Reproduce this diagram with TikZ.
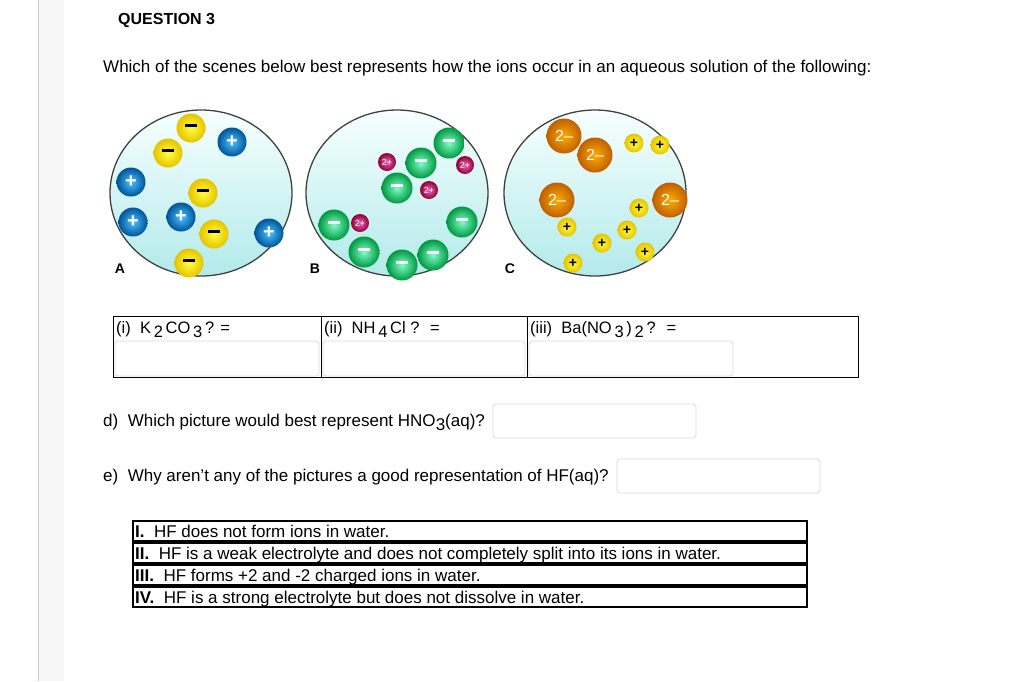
\documentclass[tikz,border=0pt]{standalone}
\usepackage{fontspec}
\setmainfont{Liberation Sans}
\newcommand{\mbar}[1]{\rule[0.32em]{#1}{0.17em}}
\begin{document}
\begin{tikzpicture}[x=1pt,y=-1pt,
 txt/.style={font=\fontsize{17}{19}\selectfont,anchor=base west,inner sep=0},
 ttxt/.style={font=\fontsize{16.5}{18}\selectfont,anchor=base west,inner sep=0},
 otxt/.style={font=\fontsize{17}{18}\selectfont,anchor=base west,inner sep=0},
 inbox/.style={draw=black!15,rounded corners=3pt,line width=0.8pt},
 ion/.style={circle,inner sep=0,minimum size=#1},
 yel/.style={ion=29pt,shade,inner color=yellow!75!white,outer color=yellow!70!orange!90!black,font=\fontsize{16}{16}\selectfont},
 blu/.style={ion=29pt,shade,inner color=blue!35!cyan!70!white,outer color=blue!45!cyan!60!black,text=white,font=\bfseries\fontsize{20}{20}\selectfont},
 grn/.style={ion=31pt,shade,inner color=green!45!cyan!50!white,outer color=green!40!teal!85!black,text=white,font=\fontsize{16}{16}\selectfont},
 pur/.style={ion=18pt,shade,inner color=magenta!45!purple!60,outer color=purple!75!black,text=white,font=\fontsize{9}{9}\selectfont},
 org/.style={ion=35pt,shade,inner color=orange!65!yellow,outer color=orange!75!black,text=white,font=\fontsize{16}{16}\selectfont},
 syl/.style={ion=19pt,shade,inner color=yellow!75!white,outer color=yellow!70!orange!90!black,font=\bfseries\fontsize{14}{14}\selectfont},
 beaker/.style={draw=black!75,line width=1.3pt,top color=cyan!3!white,bottom color=cyan!45!teal!30!white},
 lab/.style={font=\bfseries\fontsize{14}{14}\selectfont,inner sep=0}]
\useasboundingbox (0,0) rectangle (1024,681);
\fill[black!3] (38,0) rectangle (64,681);
\draw[black!20,line width=0.8pt] (38,0) -- (38,681);
\node[font=\bfseries\fontsize{16}{18}\selectfont,anchor=base west,inner sep=0] (q) at (118,24) {QUESTION 3};
\node[txt] (t1) at (103,72) {Which of the scenes below best represents how the ions occur in an aqueous solution of the following:};
% beakers
\path[beaker] (201,193) ellipse [x radius=91,y radius=83];
\path[beaker] (397,193) ellipse [x radius=91,y radius=83];
\path[beaker] (595,193) ellipse [x radius=91,y radius=83];
\node[lab] (la) at (120,269) {A};
\node[lab] (lb) at (315,269) {B};
\node[lab] (lc) at (510,269) {C};
% A
\foreach \p [count=\i] in {(191,128),(168,153),(203,193),(214,234),(189,263)} \node[yel] (ay\i) at \p {\mbar{12pt}};
\foreach \p [count=\i] in {(232,142),(131,182),(133,222),(181,217),(269,233)} \node[blu] (ab\i) at \p {+};
% B
\foreach \p [count=\i] in {(449,143),(421,163),(397,188),(334,225),(462,222),(364,252),(402,265),(433,255)} \node[grn] (bg\i) at \p {\color{white}\mbar{12pt}};
\foreach \p [count=\i] in {(387,162),(465,165),(429,190),(360,223)} \node[pur] (bp\i) at \p {2+};
% C
\foreach \p [count=\i] in {(564,136),(595,155),(557,200),(670,200)} \node[org] (co\i) at \p {2--};
\foreach \p [count=\i] in {(634,143),(660,145),(639,208),(567,227),(627,230),(602,243),(645,252),(573,263)} \node[syl] (cy\i) at \p {+};
% table
\draw[line width=1pt] (113,316) rectangle (858,377);
\draw[line width=1pt] (321,316) -- (321,377);
\draw[line width=1pt] (527,316) -- (527,377);
\node[ttxt] (ti) at (116,333) {(i)\ \ K\,\raisebox{-4pt}{2}\,CO\,\raisebox{-4pt}{3}\,? =};
\node[ttxt] (tii) at (324,333) {(ii)\ \ NH\,\raisebox{-4pt}{4}\,Cl ? \ =};
\node[ttxt] (tiii) at (530,333) {(iii)\ \ Ba(NO\,\raisebox{-4pt}{3}\,)\,\raisebox{-4pt}{2}\,? \ =};
\draw[inbox] (115,341) rectangle (319,376);
\draw[inbox] (323,341) rectangle (525,376);
\draw[inbox] (529,341) rectangle (733,376);
% d, e
\node[txt] (d) at (103,426) {d)\ \ Which picture would best represent HNO\raisebox{-4pt}{3}(aq)?};
\draw[inbox] (493,404) rectangle (696,438);
\node[txt] (e) at (103,481) {e)\ \ Why aren't any of the pictures a good representation of HF(aq)?};
\draw[inbox] (617,459) rectangle (820,493);
% options
\foreach \y/\r/\s [count=\i] in {521/I./HF does not form ions in water.,543/II./HF is a weak electrolyte and does not completely split into its ions in water.,565/III./HF forms +2 and -2 charged ions in water.,587/IV./HF is a strong electrolyte but does not dissolve in water.}{
 \draw[line width=1.2pt] (133,\y) rectangle (807,\y+20);
 \node[otxt] (o\i) at (135,\y+16) {\textbf{\r}\ \ \s};
}
\end{tikzpicture}
\end{document}
